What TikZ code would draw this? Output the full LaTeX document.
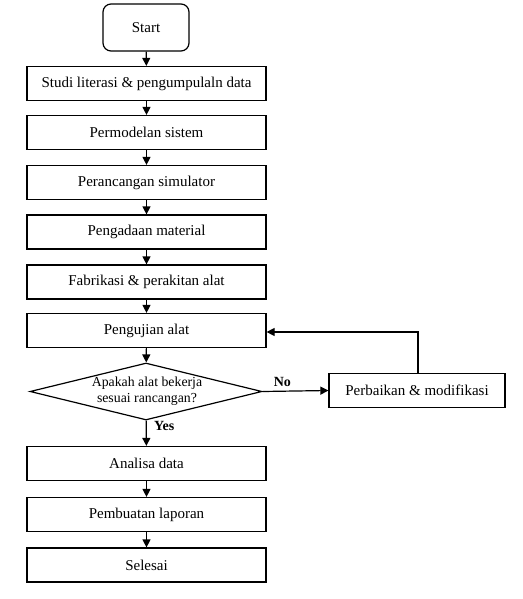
\documentclass[tikz,border=0pt]{standalone}
\usepackage{fontspec}
\setmainfont{Liberation Serif}
\usetikzlibrary{shapes.geometric,arrows.meta}
\begin{document}
\begin{tikzpicture}[x=1pt,y=-1pt,
  box/.style={draw,line width=1.2pt,minimum width=239pt,minimum height=34pt,inner sep=0pt,font=\fontsize{15}{17}\selectfont},
  arr/.style={line width=1.2pt,-{Triangle[length=8pt,width=8pt]}},
  lbl/.style={font=\fontsize{14}{16}\selectfont\bfseries}]
\useasboundingbox (0,0) rectangle (522,599);
\node[draw,line width=1.2pt,rounded corners=8pt,minimum width=86pt,minimum height=47pt,inner sep=0pt,font=\fontsize{15}{17}\selectfont] (start) at (146,27.5) {Start};
\node[box] (b1) at (146.5,83.5) {Studi literasi \& pengumpulaln data};
\node[box] (b2) at (146.5,132.5) {Permodelan sistem};
\node[box] (b3) at (146.5,182.5) {Perancangan simulator};
\node[box] (b4) at (146.5,232) {Pengadaan material};
\node[box] (b5) at (146.5,282) {Fabrikasi \& perakitan alat};
\node[box] (b6) at (146.5,330.5) {Pengujian alat};
\node[draw,line width=1.2pt,diamond,aspect=4.07,minimum width=232pt,minimum height=57pt,inner sep=0pt] (d) at (146,391.5) {};
\node[align=center,font=\fontsize{13.8}{16}\selectfont,inner sep=0pt] (dt) at (147,391) {Apakah alat bekerja\\sesuai rancangan?};
\node[box,minimum width=176pt] (p) at (417,390.5) {Perbaikan \& modifikasi};
\node[box] (b7) at (146.5,463.5) {Analisa data};
\node[box] (b8) at (146.5,514.5) {Pembuatan laporan};
\node[box] (b9) at (146.5,565) {Selesai};
\draw[arr] (start) -- (b1);
\draw[arr] (b1) -- (b2);
\draw[arr] (b2) -- (b3);
\draw[arr] (b3) -- (b4);
\draw[arr] (b4) -- (b5);
\draw[arr] (b5) -- (b6);
\draw[arr] (b6) -- (d);
\draw[arr] (d) -- (b7) node[lbl,pos=0.2,right=4pt] {Yes};
\draw[arr] (d.east) -- (p.west) node[lbl,pos=0.3,above=1pt] {No};
\coordinate (c1) at (418,332);
\draw[arr] (p.north -| c1) -- (c1) -- (c1 -| b6.east);
\draw[arr] (b7) -- (b8);
\draw[arr] (b8) -- (b9);
\end{tikzpicture}
\end{document}
